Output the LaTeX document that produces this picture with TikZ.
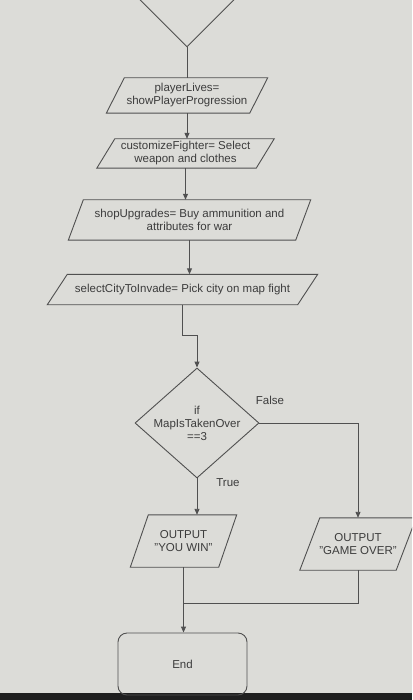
\documentclass[tikz,border=0pt]{standalone}
\usepackage{fontspec}
\setmainfont{Liberation Sans}
\usetikzlibrary{shapes.geometric,arrows.meta}
\definecolor{bg}{HTML}{DCDCD8}
\definecolor{ln}{HTML}{505050}
\definecolor{tx}{HTML}{3C3C3C}
\tikzset{
  txt/.style={font=\fontsize{11.5}{13}\selectfont, text=tx, align=center, inner sep=0pt},
  arr/.style={draw=ln, line width=0.9pt, -{Triangle[length=6pt,width=5pt]}},
  ln/.style={draw=ln, line width=0.9pt},
  shp/.style={draw=ln, line width=0.9pt},
  lbl/.style={font=\fontsize{11.5}{13}\selectfont, text=tx, inner sep=0pt},
}
% \paranode{name}{x}{y}{width}{height}{slant}{text}
\newcommand{\paranode}[7]{%
  \node[txt, minimum width=#4pt, minimum height=#5pt] (#1) at (#2,#3) {#7};
  \draw[shp] ([xshift=#6pt/2]#1.north west) -- ([xshift=#6pt/2]#1.north east)
    -- ([xshift=-#6pt/2]#1.south east) -- ([xshift=-#6pt/2]#1.south west) -- cycle;
}
\begin{document}
\begin{tikzpicture}[x=1pt,y=-1pt]
\useasboundingbox (0,0) rectangle (412,700);
\clip (0,0) rectangle (412,700);
\fill[bg] (0,0) rectangle (412,700);
\fill[black!88] (0,693) rectangle (412,700);

% top (cut-off) diamond
\node[shp, shape=diamond, minimum width=154pt, minimum height=154pt, inner sep=0pt] (top) at (187,-30) {};

\paranode{p1}{187}{95.5}{143}{35}{18}{playerLives=\\showPlayerProgression}
\paranode{p2}{185.5}{153.5}{159}{29}{18}{customizeFighter= Select\\weapon and clothes}
\paranode{p3}{189.5}{220}{227}{40}{15}{shopUpgrades= Buy ammunition and\\attributes for war}
\paranode{p4}{182.5}{289.5}{250}{30}{20}{selectCityToInvade= Pick city on map fight}

\node[shp, shape=diamond, inner sep=0pt, minimum width=124pt, minimum height=110pt] (dec) at (197,423) {};
\node[txt] (dect) at (dec.center) {if\\MapIsTakenOver\\==3};

\paranode{win}{183.5}{541}{88}{52}{18}{OUTPUT\\"YOU WIN"}
\paranode{go}{358}{544}{96}{52}{20}{OUTPUT\\"GAME OVER"}

\node[shp, txt, rounded corners=9pt, minimum width=129pt, minimum height=62pt] (end) at (182.5,664) {End};

% connectors
\draw[ln] (top.south) -- (top.south |- p1.north);
\draw[arr] (p1.south) -- (p1.south |- p2.north);
\draw[arr] (p2.south) -- (p2.south |- p3.north);
\draw[arr] (p3.south) -- (p3.south |- p4.north);
\coordinate (k) at (183,335);
\draw[arr] (p4.south) -- (p4.south |- k) -| (dec.north);
\draw[arr] (dec.east) -| (go.north);
\draw[arr] (dec.south) -- (dec.south |- win.north);
\coordinate (j) at (183,603);
\draw[arr] (win.south) -- (win.south |- end.north);
\draw[ln] (go.south) |- (j);

\node[lbl] (lf) at (270,400) {False};
\node[lbl] (lt) at (228,483) {True};
\end{tikzpicture}
\end{document}
